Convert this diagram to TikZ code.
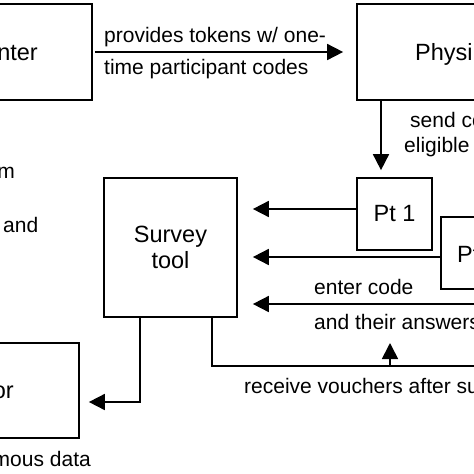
\documentclass[tikz,border=0pt]{standalone}
\usepackage{fontspec}
\setmainfont{Liberation Sans}
\usetikzlibrary{arrows.meta}

\newcommand{\boxfont}{\fontsize{23.5}{26}\selectfont}
\newcommand{\edgefont}{\fontsize{21}{24}\selectfont}

\begin{document}
\begin{tikzpicture}[x=1pt, y=-1pt,
    box/.style={draw, line width=1.7pt, inner sep=0pt, align=center, font=\boxfont},
    arrow/.style={line width=1.7pt, -{Triangle[length=16pt, width=16pt]}},
    plain/.style={line width=1.7pt},
    lbl/.style={inner sep=0pt, anchor=base west, font=\edgefont},
    boxlbl/.style={inner sep=0pt, anchor=base west, font=\boxfont}]
    \useasboundingbox (0,0) rectangle (474,474);
    \clip (0,0) rectangle (474,474);

    % boxes
    \node[box, minimum width=192pt, minimum height=96pt] (centerbox) at (-4,52) {};
    \node[box, minimum width=243pt, minimum height=96pt] (physbox) at (478.5,52) {};
    \node[box, minimum width=133pt, minimum height=139pt] (surveybox) at (170.5,247.5) {Survey\\tool};
    \node[box, minimum width=75pt, minimum height=72pt] (pt1box) at (394.5,214) {Pt 1};
    \node[box, minimum width=75pt, minimum height=72pt] (pt2box) at (478.5,253) {};
    \node[box, minimum width=179pt, minimum height=95pt] (orbox) at (-10.5,390.5) {};

    % cut-off box texts
    \node[boxlbl, anchor=base east] (centertxt) at (38,60) {nter};
    \node[boxlbl] (phystxt) at (415,60) {Physi};
    \node[boxlbl] (pt2txt) at (457,262) {Pt};
    \node[boxlbl, anchor=base east] (ortxt) at (14,398) {or};

    % free ends
    \coordinate (sendx) at (381,0);
    \coordinate (codein) at (480,304);
    \coordinate (vouchx) at (212,0);
    \coordinate (vouchout) at (480,366);
    \coordinate (vouchup) at (390,366);
    \coordinate (answerin) at (390,343);
    \coordinate (anonx) at (140,402);

    % connectors
    \draw[arrow, shorten <=2pt, shorten >=13pt] (centerbox.east) -- (physbox.west);
    \draw[arrow, shorten >=7pt] (physbox.south -| sendx) -- (pt1box.north -| sendx);
    \draw[arrow, shorten >=15pt] ([yshift=5pt]pt1box.west) -- ([yshift=5pt]pt1box.west -| surveybox.east);
    \draw[arrow, shorten >=15pt] ([yshift=-4pt]pt2box.west) -- ([yshift=-4pt]pt2box.west -| surveybox.east);
    \draw[arrow, shorten >=15pt] (codein) -- (codein -| surveybox.east);
    \draw[plain] (surveybox.south -| vouchx) |- (vouchout);
    \draw[arrow] (vouchup) -- (answerin);
    \draw[arrow, shorten >=9pt] (surveybox.south -| anonx) |- (orbox.east |- anonx);

    % labels
    \node[lbl] (tokens1) at (104,42) {provides tokens w/ one-};
    \node[lbl] (tokens2) at (104,74) {time participant codes};
    \node[lbl] (send1) at (410,127) {send co};
    \node[lbl] (send2) at (404,152) {eligible};
    \node[lbl, anchor=base east] (lefttxt1) at (15,178) {m};
    \node[lbl] (lefttxt2) at (3,232) {and};
    \node[lbl] (code1) at (314,294) {enter code};
    \node[lbl] (code2) at (314,329) {and their answers};
    \node[lbl] (vouch) at (244,393) {receive vouchers after su};
    \node[lbl, anchor=base east] (anon) at (91,466) {mous data};
\end{tikzpicture}
\end{document}
